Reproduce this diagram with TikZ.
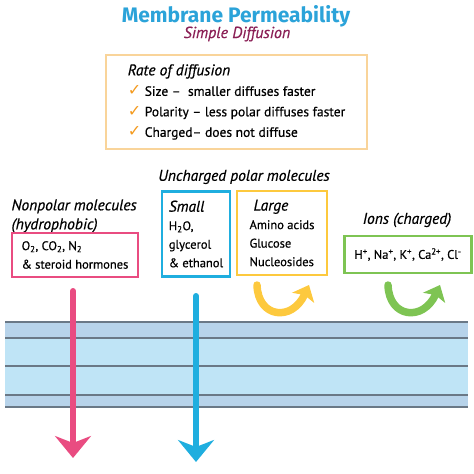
\documentclass[tikz,border=0pt]{standalone}
\usepackage{fontspec}
\setmainfont{PT Sans}[UprightFeatures={FakeBold=0.5}, ItalicFeatures={FakeBold=0.5}]
\newfontfamily\titlefont{Fira Sans}
\newfontfamily\symfont{DejaVu Sans}
\usepackage{tikz}
\usetikzlibrary{arrows.meta, positioning}

\definecolor{titleblue}{HTML}{2BA3D9}
\definecolor{subred}{HTML}{8A1F55}
\definecolor{rateline}{HTML}{F9D49A}
\definecolor{checkor}{HTML}{F39A1E}
\definecolor{pinkc}{HTML}{E94C81}
\definecolor{bluec}{HTML}{1FAEDF}
\definecolor{yellowc}{HTML}{FDC93E}
\definecolor{greenc}{HTML}{7EC453}
\definecolor{banddark}{HTML}{B7D3EA}
\definecolor{bandlight}{HTML}{BFE4F6}
\definecolor{lipidline}{HTML}{6A7886}

\newcommand{\chk}{{\symfont\bfseries\fontsize{16}{20.5}\selectfont\color{checkor}✓}\ }

\tikzstyle{molbox} = [
  rectangle, draw, line width=2.5pt, align=left, inner sep=4pt,
  font=\fontsize{12.5}{18.5}\selectfont
]
\tikzstyle{heading} = [font=\itshape\fontsize{15.5}{19}\selectfont, align=left]
\tikzstyle{crossarrow} = [line width=6pt, line cap=round,
  -{Stealth[length=22pt, width=36pt, inset=7pt]}]
\tikzstyle{bounce} = [line width=7.5pt, line cap=round,
  -{Stealth[length=14pt, width=24pt, inset=3pt]}]

\begin{document}
\begin{tikzpicture}[x=1pt, y=-1pt]
  \useasboundingbox (0,0) rectangle (474,474);

  \node[font=\titlefont\bfseries\fontsize{21}{24}\selectfont, titleblue] (title) at (236,16) {Membrane Permeability};
  \node[font=\itshape\fontsize{16}{18}\selectfont, subred] (subtitle) at (237,34) {Simple Diffusion};

  \node[rectangle, draw=rateline, line width=1.5pt, minimum width=261pt, minimum height=94pt,
    align=left, font=\fontsize{13.5}{20.5}\selectfont] (rate) at (236.5,102)
    {\textit{\fontsize{15.5}{20.5}\selectfont Rate of diffusion}\\
     \chk Size -- \ smaller diffuses faster\\
     \chk Polarity -- less polar diffuses faster\\
     \chk Charged-- does not diffuse};

  % membrane
  \fill[banddark] (5,322) rectangle (468,407);
  \fill[bandlight] (5,338) rectangle (468,395);
  \foreach \y in {322, 338, 366, 395, 407}
    \draw[lipidline, line width=1.3pt] (5,\y) -- (468,\y);

  \node[heading, anchor=west] (nonpolar) at (8,216) {Nonpolar molecules\\(hydrophobic)};
  \node[heading] (uncharged) at (244,177) {Uncharged polar molecules};
  \node[heading] (ions) at (407,220) {Ions (charged)};

  \node[molbox, draw=pinkc, minimum width=126pt, minimum height=44pt] (nonpolarbox) at (75,255)
    {O\textsubscript{2}, CO\textsubscript{2}, N\textsubscript{2}\\\& steroid hormones};
  \node[molbox, draw=bluec, minimum width=68pt, minimum height=85pt] (smallbox) at (196,234)
    {\textit{\fontsize{15.5}{18.5}\selectfont Small}\\H\textsubscript{2}O,\\glycerol\\\& ethanol};
  \node[molbox, draw=yellowc, minimum width=90pt, minimum height=84pt] (largebox) at (282,233)
    {\hspace{4pt}\textit{\fontsize{15.5}{18.5}\selectfont Large}\\Amino acids\\Glucose\\Nucleosides};
  \node[molbox, draw=greenc, minimum width=127pt, minimum height=37pt] (ionbox) at (408,254.5)
    {H\textsuperscript{+}, Na\textsuperscript{+}, K\textsuperscript{+}, Ca\textsuperscript{2+}, Cl\textsuperscript{-}};

  % crossing and bouncing
  \coordinate (pinktop) at (73,291);
  \coordinate (pinkend) at (73,458);
  \coordinate (bluetop) at (196,296);
  \coordinate (blueend) at (196,462);
  \draw[crossarrow, pinkc] (pinktop) -- (pinkend);
  \draw[crossarrow, bluec] (bluetop) -- (blueend);

  \coordinate (largeout) at (257,285);
  \coordinate (largeback) at (309,285);
  \coordinate (ionout) at (388,285);
  \coordinate (ionback) at (440,285);
  \draw[bounce, yellowc] (largeout) .. controls (258,318) and (292,322) .. (largeback);
  \draw[bounce, greenc] (ionout) .. controls (389,318) and (423,322) .. (ionback);

\end{tikzpicture}
\end{document}
